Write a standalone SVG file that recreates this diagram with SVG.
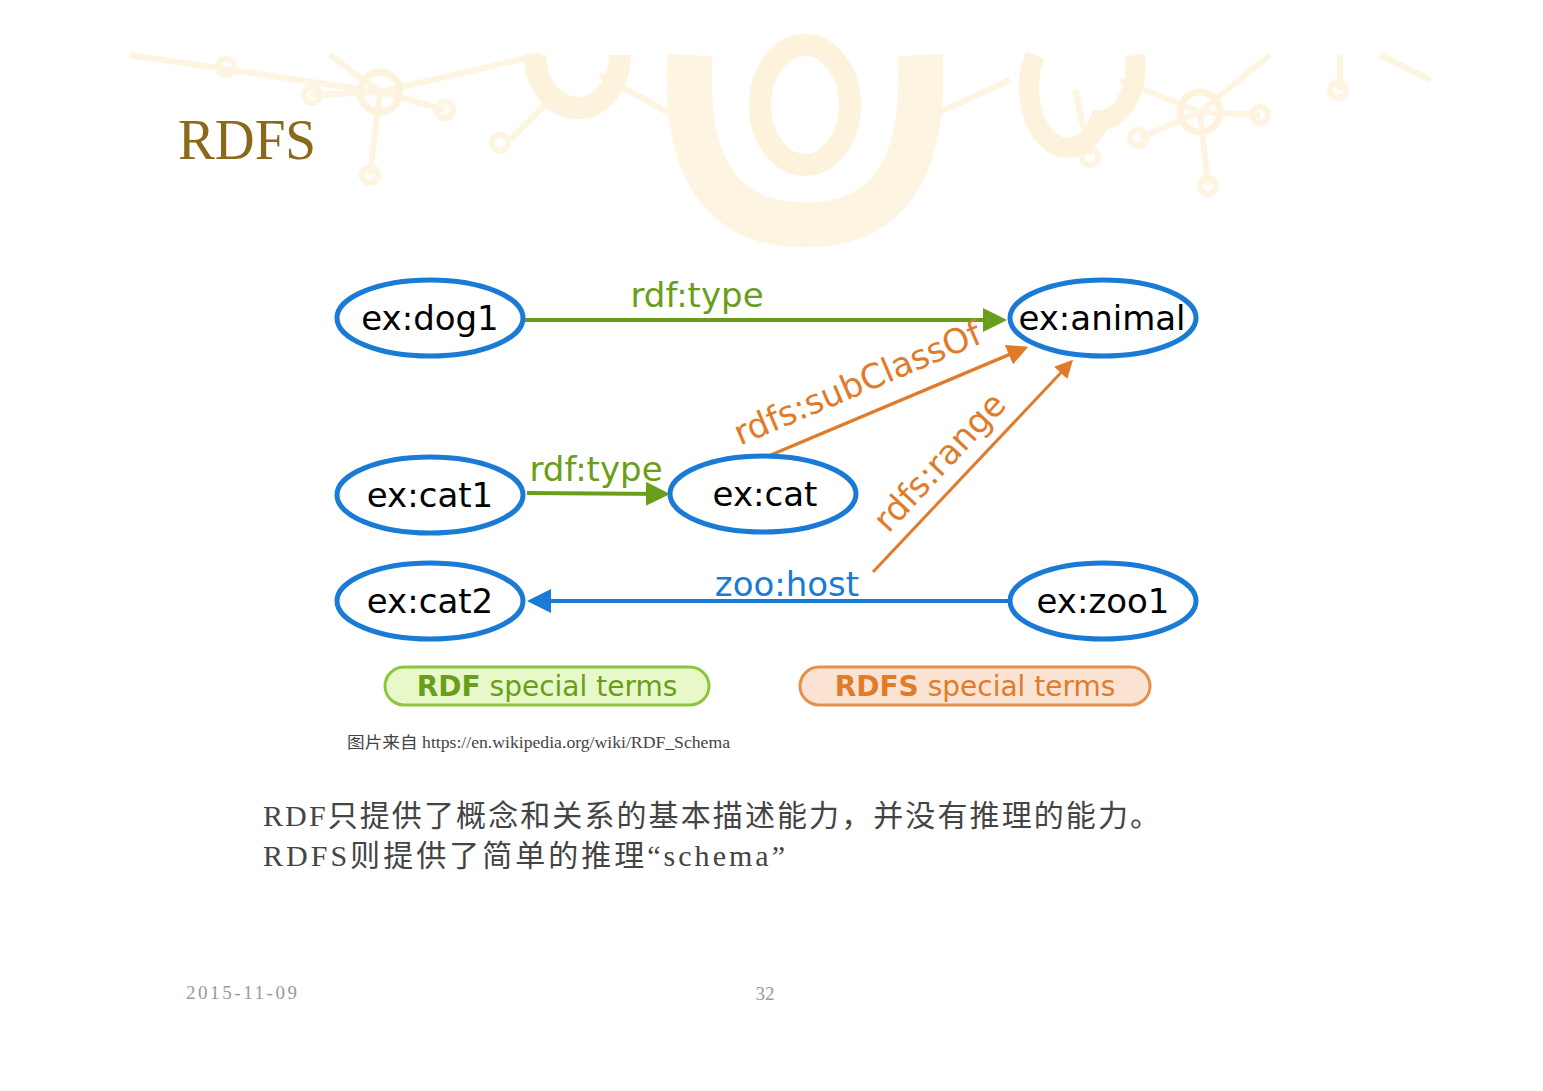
<svg xmlns="http://www.w3.org/2000/svg" width="1543" height="1091" viewBox="0 0 1543 1091">
<style>
.bg{fill:none;stroke:#fdf5e2;stroke-width:6}
.bgc{fill:none;stroke:#fdf3dc;stroke-width:7}
.node ellipse{fill:#fff;stroke:#1a7bd6;stroke-width:5}
.node text{font-family:"DejaVu Sans",sans-serif;font-size:34px;fill:#000;text-anchor:middle}
.lbl{font-family:"DejaVu Sans",sans-serif;font-size:34px;text-anchor:middle}
.serif{font-family:"Liberation Serif","Noto Sans CJK SC",serif}
</style>
<defs>
<marker id="ag" markerWidth="6" markerHeight="6" refX="5" refY="3" orient="auto" markerUnits="strokeWidth"><path d="M0,0L6,3L0,6z" fill="#6a9e1a"/></marker>
<marker id="ao" markerWidth="6" markerHeight="6" refX="5" refY="3" orient="auto" markerUnits="strokeWidth"><path d="M0,0L6,3L0,6z" fill="#e07b2a"/></marker>
<marker id="ab" markerWidth="6" markerHeight="6" refX="5" refY="3" orient="auto" markerUnits="strokeWidth"><path d="M0,0L6,3L0,6z" fill="#1a7bd6"/></marker>
</defs>
<rect width="1543" height="1091" fill="#fff"/>
<g id="background">
<path class="bg" d="M130,55 L380,92 M380,92 L310,95 M380,92 L445,110 M380,92 L370,175 M380,92 L330,55 M380,92 L540,55 M510,140 L550,100 M600,75 L700,130 M900,130 L1010,80 M1075,90 L1090,155 M1120,80 L1200,112 M1200,112 L1260,115 M1200,112 L1140,138 M1200,112 L1208,185 M1200,112 L1270,55 M1340,55 L1340,90 M1380,55 L1430,80"/>
<circle class="bgc" cx="380" cy="92" r="20"/><circle class="bgc" cx="1200" cy="112" r="20"/>
<circle class="bg" cx="226" cy="67" r="8"/><circle class="bg" cx="312" cy="95" r="8"/><circle class="bg" cx="445" cy="110" r="8"/><circle class="bg" cx="370" cy="175" r="8"/><circle class="bg" cx="500" cy="143" r="8"/><circle class="bg" cx="1090" cy="157" r="8"/><circle class="bg" cx="1138" cy="138" r="8"/><circle class="bg" cx="1260" cy="115" r="8"/><circle class="bg" cx="1208" cy="186" r="8"/><circle class="bg" cx="1338" cy="90" r="8"/>
<path d="M535,55 A40,50 0 0 0 620,55" fill="none" stroke="#fdf3dc" stroke-width="22"/>
<path d="M1035,55 A35,55 0 0 0 1100,120 A35,55 0 0 0 1135,55" fill="none" stroke="#fdf3dc" stroke-width="20"/>
<path d="M690,55 Q680,225 805,225 Q930,225 920,55" fill="none" stroke="#fdf5e2" stroke-width="45"/>
<ellipse cx="805" cy="105" rx="45" ry="60" fill="none" stroke="#fdf3dc" stroke-width="22"/>
</g>
<text x="178" y="159" class="serif" font-size="58" fill="#8a6a1a" textLength="138" lengthAdjust="spacingAndGlyphs">RDFS</text>
<g id="connectors" fill="none" stroke-width="4">
<line x1="525" y1="320" x2="1003" y2="320" stroke="#6a9e1a" marker-end="url(#ag)"/>
<line x1="527" y1="493" x2="666" y2="494" stroke="#6a9e1a" marker-end="url(#ag)"/>
<line x1="766" y1="457" x2="1025" y2="348" stroke="#e07b2a" stroke-width="3.5" marker-end="url(#ao)"/>
<line x1="873" y1="572" x2="1071" y2="362" stroke="#e07b2a" stroke-width="3" marker-end="url(#ao)"/>
<line x1="1008" y1="601" x2="531" y2="601" stroke="#1a7bd6" marker-end="url(#ab)"/>
</g>
<g id="labels">
<text class="lbl" x="697" y="307" fill="#6a9e1a">rdf:type</text>
<text class="lbl" x="596" y="481" fill="#6a9e1a">rdf:type</text>
<text class="lbl" x="862" y="394" fill="#e07b2a" transform="rotate(-23 862 394)">rdfs:subClassOf</text>
<text class="lbl" x="948" y="470" fill="#e07b2a" transform="rotate(-47 948 470)">rdfs:range</text>
<text class="lbl" x="787" y="596" fill="#1a7bd6">zoo:host</text>
</g>
<g id="dog1" class="node"><ellipse cx="430" cy="318" rx="93" ry="38"/><text x="430" y="330">ex:dog1</text></g>
<g id="animal" class="node"><ellipse cx="1103" cy="318" rx="93" ry="38"/><text x="1102" y="330">ex:animal</text></g>
<g id="cat1" class="node"><ellipse cx="430" cy="495" rx="93" ry="38"/><text x="430" y="507">ex:cat1</text></g>
<g id="cat" class="node"><ellipse cx="763" cy="494" rx="93" ry="38"/><text x="765" y="506">ex:cat</text></g>
<g id="cat2" class="node"><ellipse cx="430" cy="601" rx="93" ry="38"/><text x="430" y="613">ex:cat2</text></g>
<g id="zoo1" class="node"><ellipse cx="1103" cy="601" rx="93" ry="38"/><text x="1103" y="613">ex:zoo1</text></g>
<g id="legend-rdf"><rect x="385" y="667" width="324" height="38" rx="19" fill="#e8f8c8" stroke="#8cc63f" stroke-width="3"/>
<text x="547" y="696" text-anchor="middle" font-family="DejaVu Sans,sans-serif" font-size="28" fill="#6a9e1a"><tspan font-weight="bold">RDF</tspan> special terms</text></g>
<g id="legend-rdfs"><rect x="800" y="667" width="350" height="38" rx="19" fill="#fbe3d3" stroke="#e8904a" stroke-width="3"/>
<text x="975" y="696" text-anchor="middle" font-family="DejaVu Sans,sans-serif" font-size="28" fill="#e07b2a"><tspan font-weight="bold">RDFS</tspan> special terms</text></g>
<text x="347" y="748" class="serif" font-size="16" fill="#444" textLength="383" lengthAdjust="spacingAndGlyphs">图片来自 https://en.wikipedia.org/wiki/RDF_Schema</text>
<text x="263" y="826" class="serif" font-size="30" fill="#444" textLength="897" lengthAdjust="spacing">RDF只提供了概念和关系的基本描述能力，并没有推理的能力。</text>
<text x="263" y="866" class="serif" font-size="30" fill="#444" textLength="522" lengthAdjust="spacing">RDFS则提供了简单的推理“schema”</text>
<text x="186" y="999" class="serif" font-size="19" fill="#999" textLength="111" lengthAdjust="spacing">2015-11-09</text>
<text x="765" y="1000" class="serif" font-size="19" fill="#999" text-anchor="middle">32</text>
</svg>
